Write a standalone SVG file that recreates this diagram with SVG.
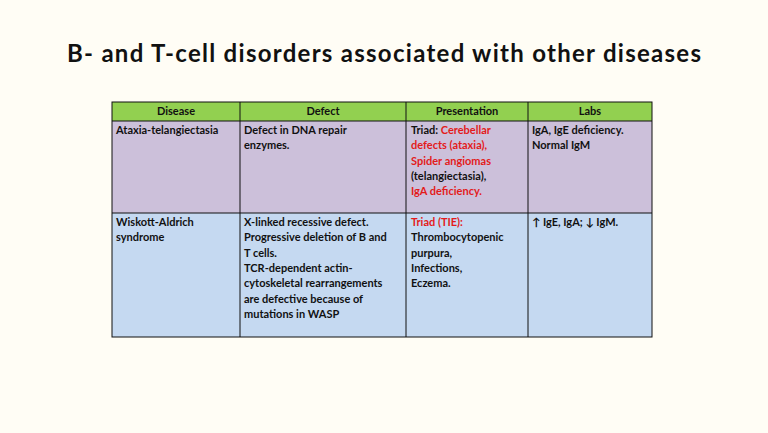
<svg xmlns="http://www.w3.org/2000/svg" width="768" height="433" viewBox="0 0 768 433">
<style>
text{font-family:Lato,"Open Sans",sans-serif;font-weight:bold;font-size:11px;fill:#111}
.h{text-anchor:middle}
.r{fill:#e31b1b}
.t{font-size:24px;text-anchor:middle}
.g line{stroke:#111;stroke-width:1}
</style>
<rect width="768" height="433" fill="#fffdf5"/>
<text class="t" x="384" y="62" textLength="634">B- and T-cell disorders associated with other diseases</text>
<g id="table">
<rect x="112" y="102" width="540" height="19" fill="#92d050"/>
<rect x="112" y="121" width="540" height="92" fill="#ccc0da"/>
<rect x="112" y="213" width="540" height="124" fill="#c5d9f1"/>
<g class="g">
<rect x="112" y="102" width="540" height="235" fill="none" stroke="#111"/>
<line x1="112" y1="121" x2="652" y2="121"/>
<line x1="112" y1="213" x2="652" y2="213"/>
<line x1="240" y1="102" x2="240" y2="337"/>
<line x1="406" y1="102" x2="406" y2="337"/>
<line x1="528" y1="102" x2="528" y2="337"/>
</g>
</g>
<g id="header">
<text class="h" x="176" y="115">Disease</text>
<text class="h" x="323" y="115">Defect</text>
<text class="h" x="467" y="115">Presentation</text>
<text class="h" x="590" y="115">Labs</text>
</g>
<g id="row1">
<text x="116" y="134">Ataxia-telangiectasia</text>
<text x="244" y="134">Defect in DNA repair</text>
<text x="244" y="149">enzymes.</text>
<text x="411" y="134">Triad: <tspan class="r">Cerebellar</tspan></text>
<text x="411" y="149" class="r">defects (ataxia),</text>
<text x="411" y="165" class="r">Spider angiomas</text>
<text x="411" y="180">(telangiectasia),</text>
<text x="411" y="195" class="r">IgA deficiency.</text>
<text x="532" y="134">IgA, IgE deficiency.</text>
<text x="532" y="149">Normal IgM</text>
</g>
<g id="row2">
<text x="116" y="226">Wiskott-Aldrich</text>
<text x="116" y="241">syndrome</text>
<text x="244" y="226">X-linked recessive defect.</text>
<text x="244" y="241">Progressive deletion of B and</text>
<text x="244" y="257">T cells.</text>
<text x="244" y="272">TCR-dependent actin-</text>
<text x="244" y="287">cytoskeletal rearrangements</text>
<text x="244" y="303">are defective because of</text>
<text x="244" y="318">mutations in WASP</text>
<text x="411" y="226" class="r">Triad (TIE):</text>
<text x="411" y="241">Thrombocytopenic</text>
<text x="411" y="257">purpura,</text>
<text x="411" y="272">Infections,</text>
<text x="411" y="287">Eczema.</text>
<text x="532" y="226">↑ IgE, IgA; ↓ IgM.</text>
</g>
</svg>
